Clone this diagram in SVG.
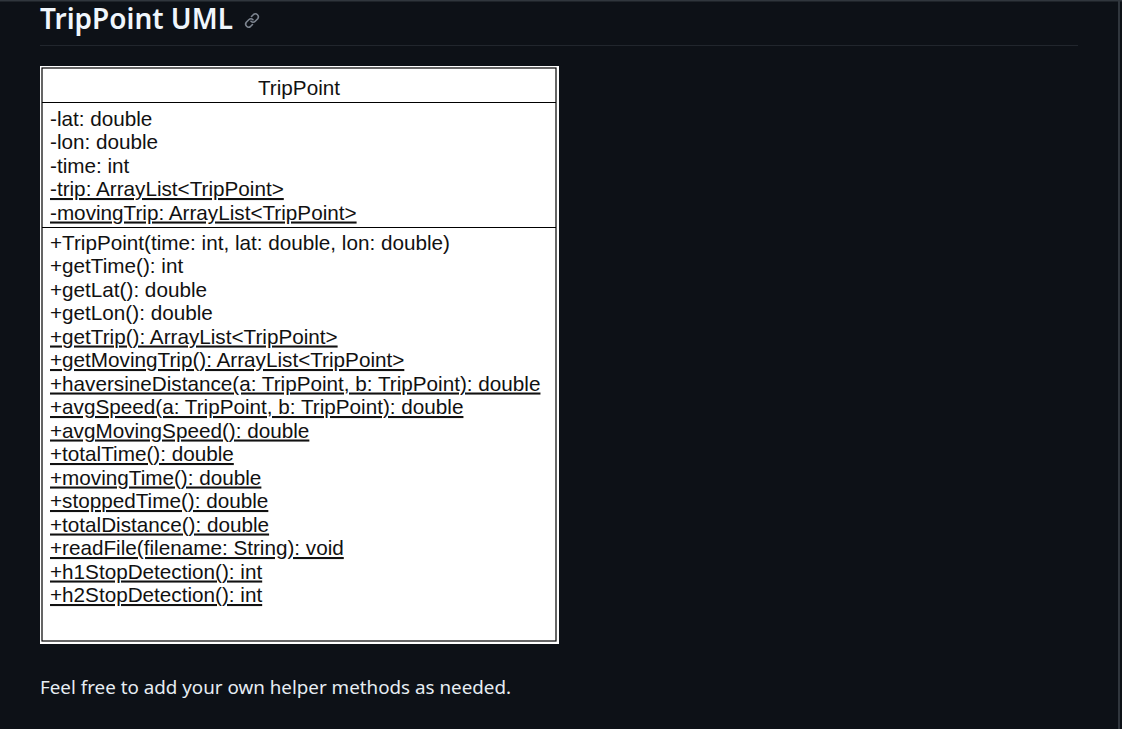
<svg xmlns="http://www.w3.org/2000/svg" width="1122" height="729" viewBox="0 0 1122 729">
<style>
.u{font-family:"Liberation Sans",Arial,sans-serif;font-size:20.7px;fill:#111}
.ul{text-decoration:underline}
</style>
<rect width="1122" height="729" fill="#0d1117"/>
<rect x="0" y="0" width="1122" height="1.5" fill="#30363d"/>
<rect x="1118" y="0" width="2" height="729" fill="#30363d"/>
<text x="40" y="29" font-family="'Noto Sans','Open Sans',sans-serif" font-weight="600" font-size="28" fill="#f0f6fc" textLength="193" lengthAdjust="spacingAndGlyphs">TripPoint UML</text>
<g id="link-icon" fill="none" stroke="#7d8590" stroke-width="1.6" stroke-linecap="round">
<path d="M251.5 16.5 l2-2 a3 3 0 0 1 4.2 4.2 l-2.5 2.5 a3 3 0 0 1 -4.2 0"/>
<path d="M252.5 24.5 l-2 2 a3 3 0 0 1 -4.2 -4.2 l2.5 -2.5 a3 3 0 0 1 4.2 0"/>
</g>
<rect x="40" y="45" width="1038" height="1" fill="#21262d"/>
<g id="TripPoint">
<rect x="40" y="66" width="519" height="578" fill="#ffffff"/>
<rect x="42" y="68" width="514" height="573" fill="none" stroke="#000" stroke-width="1.2"/>
<line x1="42" y1="102.5" x2="556" y2="102.5" stroke="#000" stroke-width="1.2"/>
<line x1="42" y1="227.5" x2="556" y2="227.5" stroke="#000" stroke-width="1.2"/>
<text class="u" x="299" y="94.5" text-anchor="middle">TripPoint</text>
<text class="u" x="50" y="125.5">-lat: double</text>
<text class="u" x="50" y="149">-lon: double</text>
<text class="u" x="50" y="172.5">-time: int</text>
<text class="u ul" x="50" y="196">-trip: ArrayList&lt;TripPoint&gt;</text>
<text class="u ul" x="50" y="219.5">-movingTrip: ArrayList&lt;TripPoint&gt;</text>
<text class="u" x="50" y="249.5">+TripPoint(time: int, lat: double, lon: double)</text>
<text class="u" x="50" y="273">+getTime(): int</text>
<text class="u" x="50" y="296.5">+getLat(): double</text>
<text class="u" x="50" y="320">+getLon(): double</text>
<text class="u ul" x="50" y="343.5">+getTrip(): ArrayList&lt;TripPoint&gt;</text>
<text class="u ul" x="50" y="367">+getMovingTrip(): ArrayList&lt;TripPoint&gt;</text>
<text class="u ul" x="50" y="390.5">+haversineDistance(a: TripPoint, b: TripPoint): double</text>
<text class="u ul" x="50" y="414">+avgSpeed(a: TripPoint, b: TripPoint): double</text>
<text class="u ul" x="50" y="437.5">+avgMovingSpeed(): double</text>
<text class="u ul" x="50" y="461">+totalTime(): double</text>
<text class="u ul" x="50" y="484.5">+movingTime(): double</text>
<text class="u ul" x="50" y="508">+stoppedTime(): double</text>
<text class="u ul" x="50" y="531.5">+totalDistance(): double</text>
<text class="u ul" x="50" y="555">+readFile(filename: String): void</text>
<text class="u ul" x="50" y="578.5">+h1StopDetection(): int</text>
<text class="u ul" x="50" y="602">+h2StopDetection(): int</text>
</g>
<text x="40" y="694" font-family="'Noto Sans','Open Sans',sans-serif" font-size="18" fill="#e6edf3" textLength="471" lengthAdjust="spacingAndGlyphs">Feel free to add your own helper methods as needed.</text>
</svg>
